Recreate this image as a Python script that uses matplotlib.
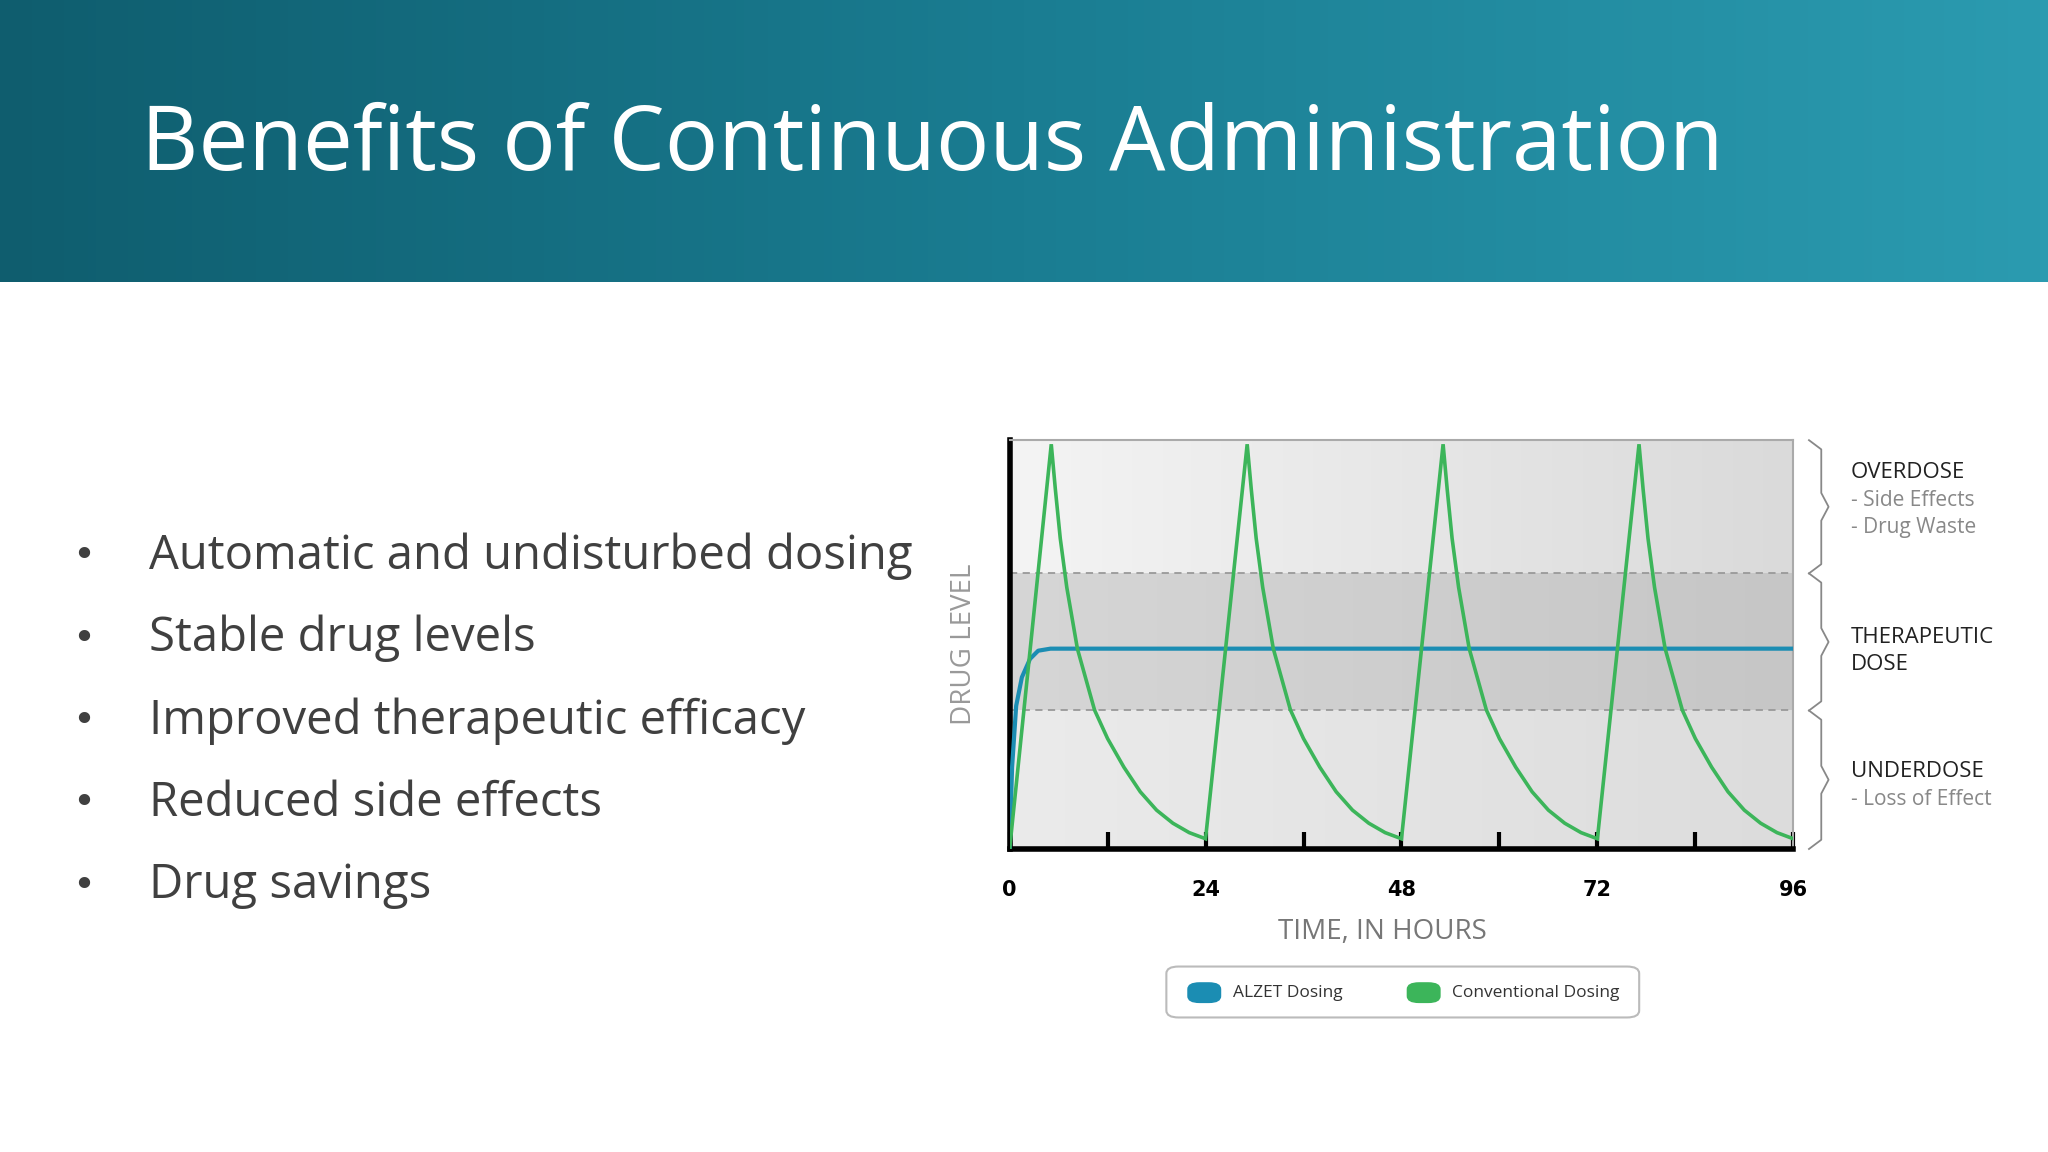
import matplotlib
matplotlib.use("Agg")
import matplotlib.pyplot as plt
import numpy as np
from matplotlib.patches import FancyBboxPatch
from matplotlib.colors import LinearSegmentedColormap

# ---- data ----
dose_starts = [0, 24, 48, 72]
cycle_t = [0, 5.1, 5.6, 6.2, 7.0, 8.3, 10.4, 12.0, 14.0, 16.0, 18.0, 20.0, 22.0, 24.0]
cycle_v = [0, 99, 88, 76, 64, 49, 34, 27, 20, 14, 9.5, 6.3, 4.0, 2.5]
trough = 2.5
alzet_t = [0, 0.3, 0.8, 1.5, 2.5, 3.5, 5.0, 96]
alzet_v = [0, 20, 35, 42, 46.5, 48.5, 49, 49]
upper_thr = 67.4
lower_thr = 34.0
xticks_major = [0, 24, 48, 72, 96]
xticks_minor = [12, 36, 60, 84]
bullets = ["Automatic and undisturbed dosing", "Stable drug levels",
           "Improved therapeutic efficacy", "Reduced side effects", "Drug savings"]

# build green series
gt, gv = [], []
for i, s in enumerate(dose_starts):
    for j, (t, v) in enumerate(zip(cycle_t, cycle_v)):
        if j == 0:
            v = 0 if i == 0 else trough
        gt.append(s + t); gv.append(v)

fig = plt.figure(figsize=(20.48, 11.52), dpi=100)
fig.patch.set_facecolor("white")

# header
hax = fig.add_axes([0, 1 - 216/882, 1, 216/882])
hcm = LinearSegmentedColormap.from_list("h", ["#0f5d6e", "#1a7d92", "#2b9bb0"])
hax.imshow(np.linspace(0, 1, 256)[None, :], aspect="auto", cmap=hcm, extent=[0, 1, 0, 1])
hax.set_axis_off()
fig.text(108/1568, 1 - 112/882, "Benefits of Continuous Administration", color="white",
         fontsize=64, family="Open Sans", va="center", ha="left")

# bullets
for k, b in enumerate(bullets):
    y = 1 - (426 + 63*k)/882
    fig.text(55/1568, y, "•", fontsize=28, color="#404040", va="center", family="DejaVu Sans")
    fig.text(114/1568, y, b, fontsize=34, color="#404040", va="center", family="Open Sans")

# chart
l, r, t, bt = 773/1568, 1373/1568, 1 - 337/882, 1 - 650/882
ax = fig.add_axes([l, bt, r - l, t - bt])
ax.set_xlim(0, 96); ax.set_ylim(0, 100)
cm1 = LinearSegmentedColormap.from_list("a", ["#f4f4f4", "#dadada"])
cm2 = LinearSegmentedColormap.from_list("b", ["#d6d6d6", "#c6c6c6"])
cm3 = LinearSegmentedColormap.from_list("c", ["#ebebeb", "#dcdcdc"])
g = np.linspace(0, 1, 256)[None, :]
ax.imshow(g, aspect="auto", cmap=cm1, extent=[0, 96, upper_thr, 100], zorder=0)
ax.imshow(g, aspect="auto", cmap=cm2, extent=[0, 96, lower_thr, upper_thr], zorder=0)
ax.imshow(g, aspect="auto", cmap=cm3, extent=[0, 96, 0, lower_thr], zorder=0)
ax.axhline(upper_thr, color="#999999", ls=(0, (4, 3)), lw=1.3, zorder=1)
ax.axhline(lower_thr, color="#999999", ls=(0, (4, 3)), lw=1.3, zorder=1)
ax.plot(alzet_t, alzet_v, color="#1b8db3", lw=3, zorder=3)
ax.plot(gt, gv, color="#3cb55a", lw=2.6, zorder=4, solid_joinstyle="miter")
ax.set_xlim(0, 96); ax.set_ylim(0, 100)
for s in ["top", "right"]:
    ax.spines[s].set_color("#aaaaaa"); ax.spines[s].set_linewidth(1.5)
for s in ["left", "bottom"]:
    ax.spines[s].set_color("black"); ax.spines[s].set_linewidth(4)
ax.set_yticks([])
ax.set_xticks(xticks_major)
ax.set_xticks(xticks_minor, minor=True)
ax.tick_params(axis="x", which="both", direction="in", length=12, width=3, color="black",
               labelsize=15, pad=22)
for lb in ax.get_xticklabels():
    lb.set_fontweight("bold")
ax.set_xlabel("TIME, IN HOURS", fontsize=20, color="#777777", family="Open Sans")
ax.set_ylabel("DRUG LEVEL", fontsize=20, color="#999999", family="Open Sans")
ax.yaxis.set_label_coords(-0.04, 0.5)
ax.xaxis.set_label_coords(0.475, -0.17)

# braces
def brace(y0, y1):
    x0, x1 = 1385/1568, 1400/1568
    ym = (y0 + y1) / 2
    xs = [x0, x0 + 0.006, x0 + 0.006, x1, x0 + 0.006, x0 + 0.006, x0]
    ys = [y0, y0 - 0.008, ym + 0.012, ym, ym - 0.012, y1 + 0.008, y1]
    fig.add_artist(plt.Line2D(xs, ys, color="#888888", lw=1.3, transform=fig.transFigure))
Y = lambda p: 1 - p/882
brace(Y(337), Y(439)); brace(Y(439), Y(544)); brace(Y(544), Y(650))
tx = 1417/1568
kw = dict(family="Open Sans", va="center", ha="left")
fig.text(tx, Y(362), "OVERDOSE", fontsize=16, color="#222222", **kw)
fig.text(tx, Y(383), "- Side Effects", fontsize=15, color="#888888", **kw)
fig.text(tx, Y(404), "- Drug Waste", fontsize=15, color="#888888", **kw)
fig.text(tx, Y(488), "THERAPEUTIC", fontsize=16, color="#222222", **kw)
fig.text(tx, Y(509), "DOSE", fontsize=16, color="#222222", **kw)
fig.text(tx, Y(591), "UNDERDOSE", fontsize=16, color="#222222", **kw)
fig.text(tx, Y(612), "- Loss of Effect", fontsize=15, color="#888888", **kw)

# legend
fig.add_artist(FancyBboxPatch((893/1568, Y(779)), 362/1568, 39/882,
               boxstyle="round,pad=0,rounding_size=0.006", fc="white", ec="#bbbbbb",
               lw=1.5, transform=fig.transFigure))
for xc, c, lab in [(922, "#1b8db3", "ALZET Dosing"), (1090, "#3cb55a", "Conventional Dosing")]:
    fig.add_artist(FancyBboxPatch(((xc - 13)/1568, Y(768)), 26/1568, 16/882,
                   boxstyle="round,pad=0,rounding_size=0.006", fc=c, ec="none",
                   transform=fig.transFigure))
    fig.text((xc + 22)/1568, Y(760), lab, fontsize=12.5, color="#333333", **kw)

fig.savefig("out.png", dpi=100)
